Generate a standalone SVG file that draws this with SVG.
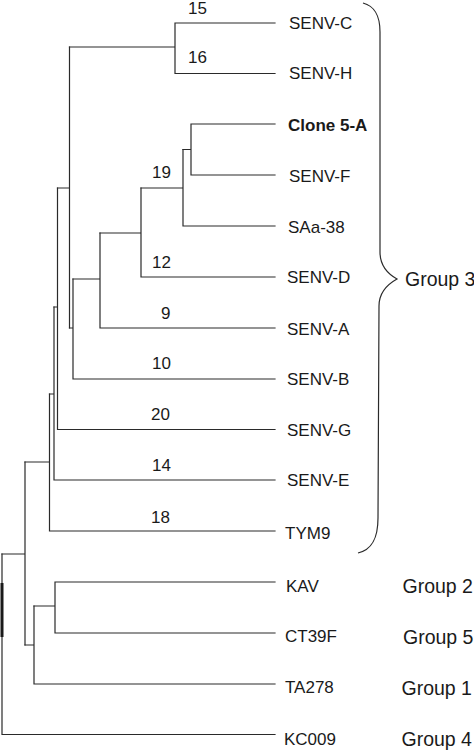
<svg xmlns="http://www.w3.org/2000/svg" width="474" height="751" viewBox="0 0 474 751">
<style>
.e{fill:none;stroke:#2a2a2a;stroke-width:1.2;stroke-linecap:square}
.leaf{font-family:"Liberation Sans",Arial,sans-serif;font-size:17px;fill:#1a1a1a}
.b{font-weight:bold}
.bs{font-family:"Liberation Sans",Arial,sans-serif;font-size:17px;fill:#1a1a1a}
.grp{font-family:"Liberation Sans",Arial,sans-serif;font-size:19.5px;fill:#1a1a1a}
</style>
<rect width="474" height="751" fill="#fff"/>
<g id="connectors">
<path class="e" d="M191,124V175M191,124H275M191,175H275M183,149.5H191"/>
<path class="e" d="M183,149.5V226M183,226H275M141,188H183"/>
<path class="e" d="M141,188V277M141,277H275M100,233H141"/>
<path class="e" d="M100,233V328M100,328H275M73,279H100"/>
<path class="e" d="M73,279V379M73,379H275M69.5,328H73"/>
<path class="e" d="M175,23V73.5M175,23H275M175,73.5H275M69.5,47H175"/>
<path class="e" d="M69.5,47V328M57.5,188H69.5"/>
<path class="e" d="M57.5,188V429.5M57.5,429.5H275M54,307H57.5"/>
<path class="e" d="M54,307V480M54,480H275M49.5,394H54"/>
<path class="e" d="M49.5,394V531M49.5,531H275M25,462H49.5"/>
<path class="e" d="M55,582V633M55,582H275M55,633H275M34,606H55"/>
<path class="e" d="M34,606V684M34,684H275M25,645H34"/>
<path class="e" d="M25,462V645M2,554H25"/>
<path class="e" d="M2,554V734.5M2,734.5H275"/>
<rect x="0.5" y="583" width="3" height="54" fill="#1a1a1a"/>
</g>
<g id="branch-labels">
<text class="bs" x="188" y="14">15</text>
<text class="bs" x="188" y="63">16</text>
<text class="bs" x="152" y="178">19</text>
<text class="bs" x="152" y="268">12</text>
<text class="bs" x="161" y="319">9</text>
<text class="bs" x="152" y="369">10</text>
<text class="bs" x="151" y="420">20</text>
<text class="bs" x="152" y="471">14</text>
<text class="bs" x="151" y="523">18</text>
</g>
<g id="leaf-SENV-C"><text class="leaf" x="289" y="29">SENV-C</text></g>
<g id="leaf-SENV-H"><text class="leaf" x="289" y="79">SENV-H</text></g>
<g id="leaf-Clone5A"><text class="leaf b" x="288" y="131">Clone 5-A</text></g>
<g id="leaf-SENV-F"><text class="leaf" x="289" y="181.5">SENV-F</text></g>
<g id="leaf-SAa-38"><text class="leaf" x="288" y="232.5">SAa-38</text></g>
<g id="leaf-SENV-D"><text class="leaf" x="287" y="283">SENV-D</text></g>
<g id="leaf-SENV-A"><text class="leaf" x="287" y="335">SENV-A</text></g>
<g id="leaf-SENV-B"><text class="leaf" x="287" y="385">SENV-B</text></g>
<g id="leaf-SENV-G"><text class="leaf" x="287" y="436">SENV-G</text></g>
<g id="leaf-SENV-E"><text class="leaf" x="287" y="486">SENV-E</text></g>
<g id="leaf-TYM9"><text class="leaf" x="285" y="539">TYM9</text></g>
<g id="leaf-KAV"><text class="leaf" x="286" y="592">KAV</text></g>
<g id="leaf-CT39F"><text class="leaf" x="285" y="642">CT39F</text></g>
<g id="leaf-TA278"><text class="leaf" x="285" y="693">TA278</text></g>
<g id="leaf-KC009"><text class="leaf" x="284" y="744.5">KC009</text></g>
<g id="group3">
<path fill="none" stroke="#2a2a2a" stroke-width="1.2" d="M363,3C374,6 380,14 380,32L380,252C380,266 388,274 397,279C388,284 379,292 379,306L378,518C378,540 371,550 358,553"/>
<text class="grp" x="405" y="285.5">Group 3</text>
</g>
<g id="group2"><text class="grp" x="402.5" y="593">Group 2</text></g>
<g id="group5"><text class="grp" x="403" y="644">Group 5</text></g>
<g id="group1"><text class="grp" x="401.5" y="695">Group 1</text></g>
<g id="group4"><text class="grp" x="401.5" y="746">Group 4</text></g>
</svg>
